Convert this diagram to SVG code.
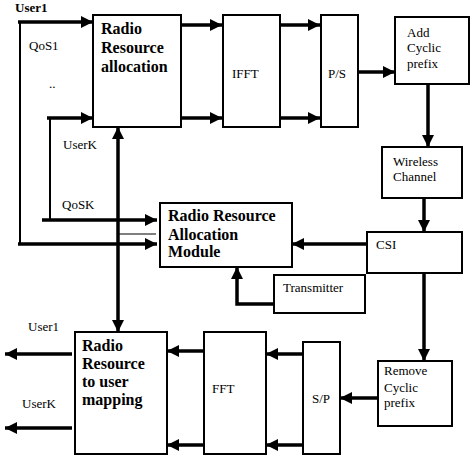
<svg xmlns="http://www.w3.org/2000/svg" width="474" height="474" viewBox="0 0 474 474">
<style>
.box{fill:#fff;stroke:#000;stroke-width:2}
.t{font-family:"Liberation Serif",serif;font-size:13px;fill:#000}
.b{font-family:"Liberation Serif",serif;font-size:16px;font-weight:bold;fill:#000}
.w{fill:none;stroke:#000;stroke-width:3.5}
.m{fill:none;stroke:#000;stroke-width:2}
.thin{fill:none;stroke:#000;stroke-width:1.2}
</style>
<defs>
<marker id="ah" markerUnits="userSpaceOnUse" markerWidth="12" markerHeight="12" refX="12" refY="6" orient="auto">
<path d="M0,0 L12,6 L0,12 z" fill="#000"/>
</marker>
</defs>
<rect width="474" height="474" fill="#fff"/>
<g id="connectors">
<path class="w" d="M18,22 H93" marker-end="url(#ah)"/>
<path class="m" d="M20,22 V244"/>
<path class="w" d="M18,244 H157" marker-end="url(#ah)"/>
<path class="w" d="M47,118 H93" marker-end="url(#ah)"/>
<path class="m" d="M50,118 V220"/>
<path class="w" d="M42,220 H157" marker-end="url(#ah)"/>
<path class="thin" d="M118,234 H156"/>
<path class="w" d="M118,240 V127" marker-end="url(#ah)"/>
<path class="w" d="M118,240 V332" marker-end="url(#ah)"/>
<path class="w" d="M181,25 H222" marker-end="url(#ah)"/>
<path class="w" d="M181,118 H222" marker-end="url(#ah)"/>
<path class="w" d="M280,25 H320" marker-end="url(#ah)"/>
<path class="w" d="M280,118 H320" marker-end="url(#ah)"/>
<path class="w" d="M358,72 H395" marker-end="url(#ah)"/>
<path class="w" d="M428,84 V147" marker-end="url(#ah)"/>
<path class="w" d="M424,198 V232" marker-end="url(#ah)"/>
<path class="w" d="M367,244 H292" marker-end="url(#ah)"/>
<path class="w" d="M274,304 H237 V267" marker-end="url(#ah)"/>
<path class="w" d="M424,273 V361" marker-end="url(#ah)"/>
<path class="w" d="M378,398 H340" marker-end="url(#ah)"/>
<path class="w" d="M303,354 H266" marker-end="url(#ah)"/>
<path class="w" d="M303,445 H266" marker-end="url(#ah)"/>
<path class="w" d="M204,351 H167" marker-end="url(#ah)"/>
<path class="w" d="M204,445 H167" marker-end="url(#ah)"/>
<path class="w" d="M72,354 H5" marker-end="url(#ah)"/>
<path class="w" d="M72,428 H5" marker-end="url(#ah)"/>
</g>
<g id="labels">
<text class="t" x="15" y="12" font-weight="bold" font-size="12">User1</text>
<text class="t" x="29" y="50">QoS1</text>
<text class="t" x="49" y="88">..</text>
<text class="t" x="63" y="149">UserK</text>
<text class="t" x="62" y="209">QoSK</text>
<text class="t" x="28" y="331">User1</text>
<text class="t" x="22" y="408">UserK</text>
</g>
<g id="alloc">
<rect class="box" x="93" y="15" width="88" height="112"/>
<text class="b" x="101" y="34">Radio</text>
<text class="b" x="101" y="53">Resource</text>
<text class="b" x="101" y="72">allocation</text>
</g>
<g id="ifft">
<rect class="box" x="223" y="15" width="57" height="112"/>
<text class="t" x="232" y="78">IFFT</text>
</g>
<g id="ps">
<rect class="box" x="321" y="15" width="37" height="112"/>
<text class="t" x="328" y="78">P/S</text>
</g>
<g id="addcp">
<rect class="box" x="395" y="17" width="74" height="67"/>
<text class="t" x="407" y="37">Add</text>
<text class="t" x="407" y="52">Cyclic</text>
<text class="t" x="407" y="68">prefix</text>
</g>
<g id="wireless">
<rect class="box" x="382" y="147" width="80" height="51"/>
<text class="t" x="393" y="166">Wireless</text>
<text class="t" x="393" y="181">Channel</text>
</g>
<g id="csi">
<rect class="box" x="367" y="232" width="95" height="41"/>
<text class="t" x="376" y="249" font-size="14">CSI</text>
</g>
<g id="module">
<rect class="box" x="160" y="203" width="132" height="64"/>
<text class="b" x="168" y="221" font-size="15">Radio Resource</text>
<text class="b" x="168" y="240" font-size="15">Allocation</text>
<text class="b" x="168" y="257" font-size="15">Module</text>
</g>
<g id="transmitter">
<rect class="box" x="274" y="275" width="91" height="38"/>
<text class="t" x="283" y="292">Transmitter</text>
</g>
<g id="remove">
<rect class="box" x="378" y="361" width="74" height="65"/>
<text class="t" x="384" y="375">Remove</text>
<text class="t" x="384" y="392">Cyclic</text>
<text class="t" x="384" y="407">prefix</text>
</g>
<g id="sp">
<rect class="box" x="303" y="342" width="37" height="112"/>
<text class="t" x="312" y="403">S/P</text>
</g>
<g id="fft">
<rect class="box" x="204" y="332" width="62" height="122"/>
<text class="t" x="212" y="393">FFT</text>
</g>
<g id="mapping">
<rect class="box" x="75" y="332" width="92" height="122"/>
<text class="b" x="82" y="351">Radio</text>
<text class="b" x="82" y="369">Resource</text>
<text class="b" x="82" y="387">to user</text>
<text class="b" x="82" y="405">mapping</text>
</g>
</svg>
